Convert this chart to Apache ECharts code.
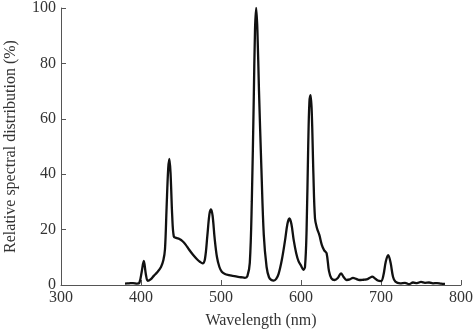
<!DOCTYPE html>
<html>
<head>
<meta charset="utf-8">
<script src="https://cdn.jsdelivr.net/npm/echarts@6/dist/echarts.min.js"></script>
<style>
  html, body { margin: 0; padding: 0; background: #fff; }
  #chart { width: 474px; height: 331px; }
</style>
</head>
<body>
<div id="chart"></div>
<script>
// wavelength (nm) and relative spectral distribution (%)
const wavelength = [
  380, 385, 390, 395, 398, 401, 403.5, 406, 408.5, 412, 416, 420, 425, 428, 430, 432, 434, 435.5, 437, 439,
  441, 444, 448, 452, 456, 460, 465, 470, 474, 477, 480, 483, 485.5, 487.5, 489.5, 492, 495, 498, 501, 505,
  510, 515, 520, 525, 530, 533, 536, 538.5, 541, 542.5, 544, 545.5, 547.5, 550.5, 553.5, 557, 560, 563, 566, 569,
  572, 576, 580, 583, 585.5, 588, 591, 594, 597, 600, 603, 605, 607, 609, 610.5, 612, 613.5, 615.5, 617.5, 620,
  623, 626, 629, 632, 635, 638, 642, 646, 650, 653, 657, 661, 665, 669, 673, 678, 682, 686, 689, 692,
  696, 700, 703, 706, 709, 712, 715, 718, 724, 730, 735, 740, 745, 750, 755, 760, 765, 770, 775, 780
]
const intensity = [
  0.5, 0.6, 0.7, 0.5, 0.8, 5, 8.7, 4, 1.5, 2, 3.3, 4.5, 6.5, 9, 13, 28, 42, 45.5, 40, 25,
  17.5, 17, 16.6, 15.8, 14.5, 12.8, 10.9, 9.3, 8.3, 7.8, 9.5, 18, 25.5, 27.3, 25, 17, 10, 6.5, 4.8, 4,
  3.6, 3.3, 3, 2.8, 2.6, 3.2, 8, 30, 68, 92, 100, 92, 70, 42, 18, 6.5, 2.8, 1.8, 1.6, 2.2,
  4, 9, 16, 22, 24, 22, 16, 11.5, 8.5, 7, 5.5, 6.5, 20, 50, 66, 68.5, 62, 40, 24, 20.5,
  18, 14.5, 12.5, 11.5, 5, 2.4, 1.8, 2.5, 4.2, 3, 1.8, 2, 2.6, 2.2, 1.8, 1.9, 2, 2.6, 3, 2.5,
  1.6, 1.4, 3.5, 8.5, 10.8, 8, 3, 1.2, 0.6, 0.8, 0.3, 0.9, 0.7, 1.1, 0.8, 0.9, 0.6, 0.7, 0.5, 0.4
]

const chart = echarts.init(document.getElementById('chart'))
const font = 'Liberation Serif, Times New Roman, serif'
const axisColor = '#555'

chart.setOption({
  animation: false,
  grid: { left: 61, right: 13, top: 8, bottom: 46, outerBoundsMode: 'none' },
  xAxis: {
    type: 'value',
    min: 300,
    max: 800,
    interval: 100,
    name: 'Wavelength (nm)',
    nameLocation: 'middle',
    nameGap: 28,
    nameTextStyle: { fontFamily: font, fontSize: 16, color: '#333' },
    axisLine: { lineStyle: { color: axisColor, width: 1 } },
    axisTick: { inside: true, length: 5, lineStyle: { color: axisColor } },
    axisLabel: { fontFamily: font, fontSize: 16, color: '#333', margin: 5 },
    splitLine: { show: false }
  },
  yAxis: {
    type: 'value',
    min: 0,
    max: 100,
    interval: 20,
    name: 'Relative spectral distribution (%)',
    nameLocation: 'middle',
    nameGap: 42,
    nameTextStyle: { fontFamily: font, fontSize: 16, color: '#333' },
    axisLine: { show: true, lineStyle: { color: axisColor, width: 1 } },
    axisTick: { show: true, inside: true, length: 5, lineStyle: { color: axisColor } },
    axisLabel: { fontFamily: font, fontSize: 16, color: '#333', margin: 5 },
    splitLine: { show: false }
  },
  series: [{
    type: 'line',
    data: wavelength.map((w, i) => [w, intensity[i]]),
    smooth: 0.35,
    showSymbol: false,
    lineStyle: { color: '#111', width: 2.3 }
  }]
})
</script>
</body>
</html>
